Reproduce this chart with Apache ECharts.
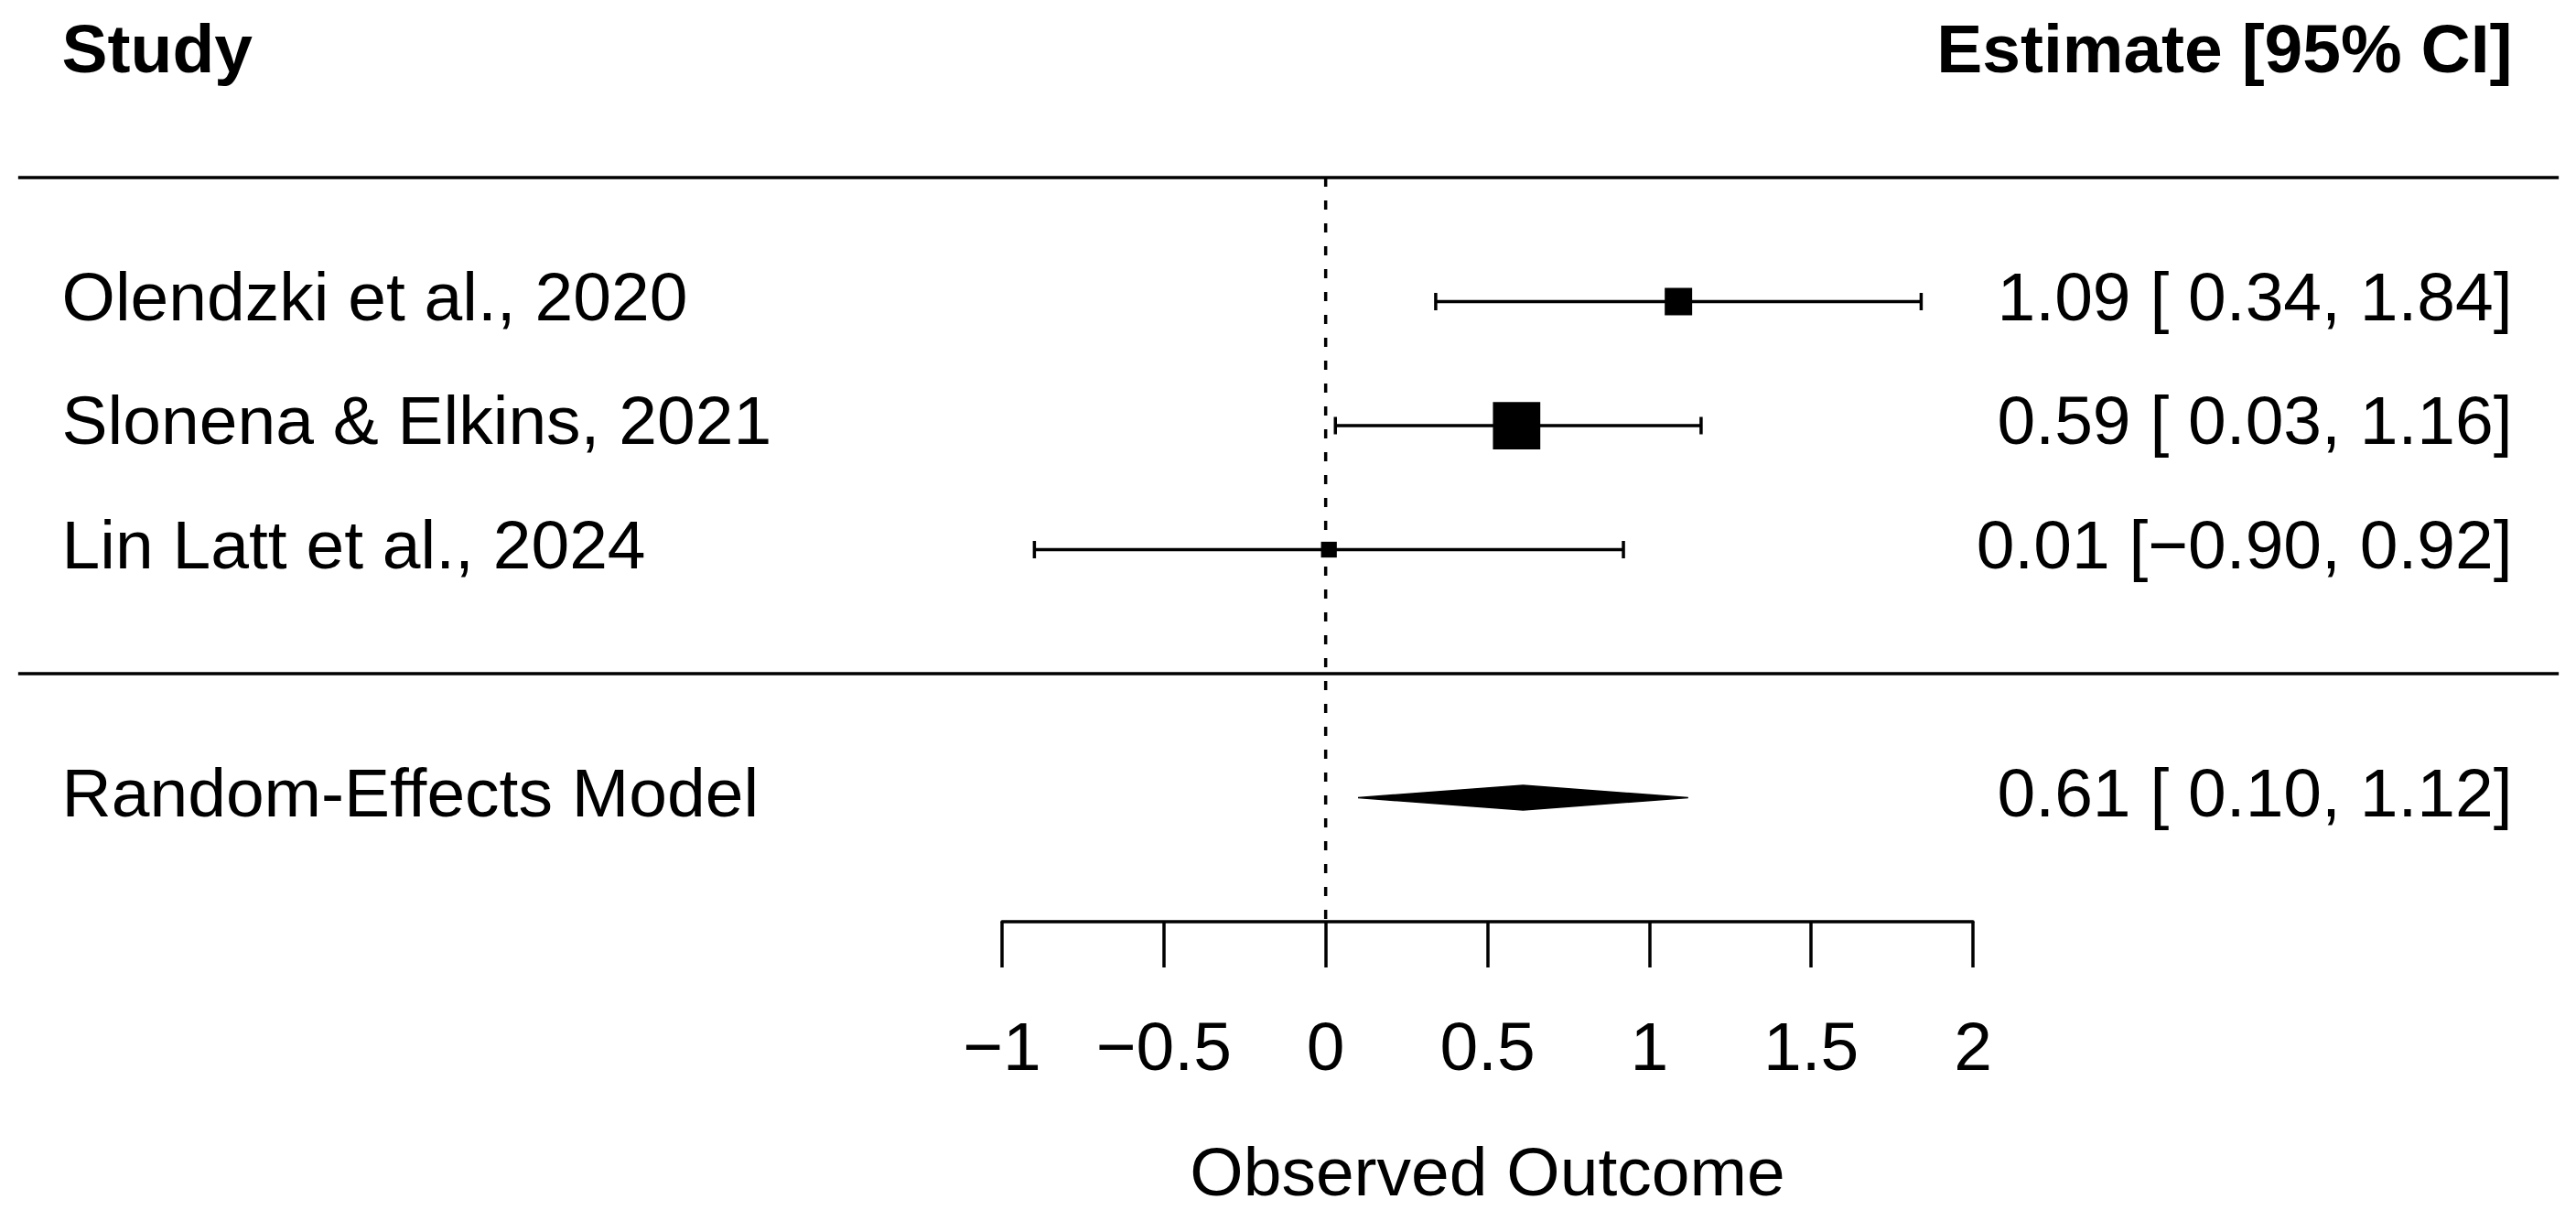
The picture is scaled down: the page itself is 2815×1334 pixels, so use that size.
<!DOCTYPE html>
<html><head><meta charset="utf-8">
<script src="https://cdn.jsdelivr.net/npm/echarts@6/dist/echarts.min.js"></script>
<style>html,body{margin:0;padding:0;background:#fff}#c{width:2815px;height:1334px}</style>
</head><body><div id="c"></div>
<script>
// ---- data ----
const studies = ['Olendzki et al., 2020', 'Slonena & Elkins, 2021', 'Lin Latt et al., 2024'];
const estimates = [1.09, 0.59, 0.01];
const ciLower = [0.34, 0.03, -0.90];
const ciUpper = [1.84, 1.16, 0.92];
const weights = [31.5, 44.7, 23.8]; // estimated study weights (%), drive square size
const modelLabel = 'Random-Effects Model';
const modelEstimate = [0.61];
const modelLower = [0.10];
const modelUpper = [1.12];
const xTicks = [-1, -0.5, 0, 0.5, 1, 1.5, 2];
const headerLeft = 'Study';
const headerRight = 'Estimate [95% CI]';
const xAxisTitle = 'Observed Outcome';

// ---- layout / style ----
const FONT = "'Liberation Sans', Arial, Helvetica, sans-serif";
const FS = 75;
const LW = 3.5;
const TEXT_DY = -6;
const LABEL_X = -3.905, EST_X = 3.667, LINE_L = -4.04, LINE_R = 3.81;
const k = studies.length;
const studyRow = i => k - i;      // 3,2,1
const modelRow = -1;
const topLineRow = k + 1, midLineRow = 0, headerRow = k + 2;

function fmt(v) { return v.toFixed(2).replace('-', '\u2212'); }
function padCol(arr) {
  const s = arr.map(fmt); const w = Math.max(...s.map(x => x.length));
  return s.map(x => x.padStart(w, ' '));
}
const allEst = estimates.concat(modelEstimate), allLo = ciLower.concat(modelLower), allHi = ciUpper.concat(modelUpper);
const cE = padCol(allEst), cL = padCol(allLo), cH = padCol(allHi);
const estText = cE.map((e, i) => e + ' [' + cL[i] + ', ' + cH[i] + ']');

const wMin = Math.min(...weights), wMax = Math.max(...weights);
const psize = weights.map(w => 0.5 + (w - wMin) / (wMax - wMin));
const SQ = 34.5;

function txt(x, y, s, align, bold) {
  return { type: 'text', style: { text: s, x: x, y: y + TEXT_DY, fill: '#000', font: (bold ? 'bold ' : '') + FS + 'px ' + FONT, align: align, verticalAlign: 'middle' } };
}
function line(p1, p2, dash) {
  return { type: 'line', shape: { x1: p1[0], y1: p1[1], x2: p2[0], y2: p2[1] }, style: { stroke: '#000', lineWidth: LW, lineDash: dash || null, lineCap: 'butt' } };
}

const chart = echarts.init(document.getElementById('c'), null, { renderer: 'svg' });
chart.setOption({
  animation: false,
  backgroundColor: '#fff',
  grid: { left: 1095, right: 659, top: 58.5, bottom: 327 },
  xAxis: {
    type: 'value', min: xTicks[0], max: xTicks[xTicks.length - 1], interval: xTicks[1] - xTicks[0],
    axisLine: { show: true, onZero: false, lineStyle: { color: '#000', width: LW } },
    axisTick: { show: true, length: 50, lineStyle: { color: '#000', width: LW } },
    axisLabel: { color: '#000', fontSize: FS, fontFamily: FONT, margin: 98, lineHeight: FS,
      formatter: v => String(v).replace('-', '\u2212') },
    splitLine: { show: false },
    name: xAxisTitle, nameLocation: 'middle', nameGap: 235,
    nameTextStyle: { color: '#000', fontSize: FS, fontFamily: FONT, lineHeight: FS }
  },
  yAxis: { type: 'value', min: -2, max: 5, show: false },
  series: [
    { // frame: headers, separator lines, reference line
      type: 'custom', clip: false, silent: true, data: [0],
      renderItem: (params, api) => {
        const tl = api.coord([LINE_L, topLineRow]), tr = api.coord([LINE_R, topLineRow]);
        const ml = api.coord([LINE_L, midLineRow]), mr = api.coord([LINE_R, midLineRow]);
        const r0 = api.coord([0, topLineRow]), r1 = api.coord([0, -2]);
        const hl = api.coord([LABEL_X, headerRow]), hr = api.coord([EST_X, headerRow]);
        return { type: 'group', children: [
          line(tl, tr), line(ml, mr), line(r0, r1, [10, 15]),
          txt(hl[0], hl[1], headerLeft, 'left', true),
          txt(hr[0], hr[1], headerRight, 'right', true)
        ] };
      }
    },
    { // studies
      type: 'custom', clip: false, silent: true, data: studies.map((s, i) => i),
      renderItem: (params, api) => {
        const i = params.dataIndex, row = studyRow(i);
        const a = api.coord([ciLower[i], row]), b = api.coord([ciUpper[i], row]), c = api.coord([estimates[i], row]);
        const s = SQ * psize[i], cap = 9.5;
        const lp = api.coord([LABEL_X, row]), rp = api.coord([EST_X, row]);
        return { type: 'group', children: [
          line(a, b),
          line([a[0], a[1] - cap], [a[0], a[1] + cap]),
          line([b[0], b[1] - cap], [b[0], b[1] + cap]),
          { type: 'rect', shape: { x: c[0] - s / 2, y: c[1] - s / 2, width: s, height: s }, style: { fill: '#000' } },
          txt(lp[0], lp[1], studies[i], 'left', false),
          txt(rp[0], rp[1], estText[i], 'right', false)
        ] };
      }
    },
    { // summary diamond
      type: 'custom', clip: false, silent: true, data: [0],
      renderItem: (params, api) => {
        const lo = api.coord([modelLower[0], modelRow]), hi = api.coord([modelUpper[0], modelRow]), c = api.coord([modelEstimate[0], modelRow]);
        const h = 13.5;
        const lp = api.coord([LABEL_X, modelRow]), rp = api.coord([EST_X, modelRow]);
        return { type: 'group', children: [
          { type: 'polygon', shape: { points: [[lo[0], lo[1]], [c[0], c[1] - h], [hi[0], hi[1]], [c[0], c[1] + h]] }, style: { fill: '#000', stroke: '#000', lineWidth: 1.5 } },
          txt(lp[0], lp[1], modelLabel, 'left', false),
          txt(rp[0], rp[1], estText[k], 'right', false)
        ] };
      }
    }
  ]
});
</script>
</body></html>
